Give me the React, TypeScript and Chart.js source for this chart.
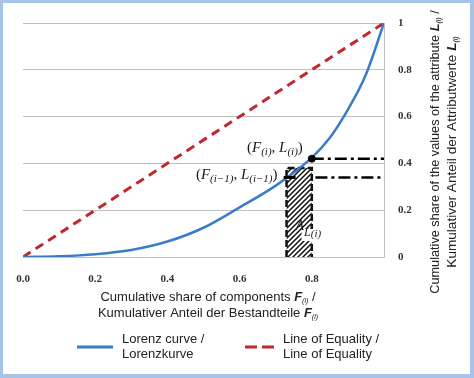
import React, { useEffect, useRef } from "react";
import { Chart, registerables } from "chart.js";

Chart.register(...registerables);

// ---- data ----
const lorenzX = [0, 0.1, 0.2, 0.3, 0.4, 0.5, 0.6, 0.7, 0.8, 0.85, 0.9, 0.95, 1];
const lorenzY = [0, 0.003, 0.012, 0.03, 0.066, 0.125, 0.212, 0.305, 0.425, 0.51, 0.63, 0.78, 1];
const equalityX = [0, 1];
const equalityY = [0, 1];
const Fi = 0.8;
const Li = 0.42;
const Fim1 = 0.73;
const Lim1 = 0.34;
const areaTop = 0.38;
const upperDashX = [0.8, 1];
const lowerDashX = [0.81, 0.99];
const lowerStubX = [0.722, 0.755];
const xTickLabels = ["0.0", "0.2", "0.4", "0.6", "0.8", ""];
const yTickLabels = ["0", "0.2", "0.4", "0.6", "0.8", "1"];
const xTitleLines = ["Cumulative share of components ", "Kumulativer Anteil der Bestandteile "];
const yTitleLines = ["Cumulative share of the values of the attribute ", "Kumulativer Anteil der Attributwerte "];
const legendLorenz = ["Lorenz curve /", "Lorenzkurve"];
const legendEquality = ["Line of Equality /", "Line of Equality"];

const BLUE = "#3b7cc8";
const RED = "#c1272d";
const SANS = "'Liberation Sans', Arial, sans-serif";
const SERIF = "'Liberation Serif', 'Times New Roman', serif";
const TXT = "#222222";

type Seg = { t: string; f: string; dy?: number };

function richWidth(ctx: CanvasRenderingContext2D, segs: Seg[]) {
  let w = 0;
  for (const s of segs) {
    ctx.font = s.f;
    w += ctx.measureText(s.t).width;
  }
  return w;
}

function drawRich(ctx: CanvasRenderingContext2D, segs: Seg[], x: number, y: number, align: "left" | "center" | "right") {
  const w = richWidth(ctx, segs);
  let cx = align === "left" ? x : align === "center" ? x - w / 2 : x - w;
  ctx.textAlign = "left";
  ctx.textBaseline = "alphabetic";
  for (const s of segs) {
    ctx.font = s.f;
    ctx.fillText(s.t, cx, y + (s.dy || 0));
    cx += ctx.measureText(s.t).width;
  }
}

const pts = (xs: number[], ys: number[]) => xs.map((x, i) => ({ x, y: ys[i] }));

const textPlugin = {
  id: "annotText",
  afterDatasetsDraw(chart: any) {
    const ctx: CanvasRenderingContext2D = chart.ctx;
    const xs = chart.scales.x;
    const ys = chart.scales.y;
    ctx.save();
    ctx.fillStyle = "#1a1a1a";
    const m = "15px " + SERIF;
    const mi = "italic 15px " + SERIF;
    const sb = "italic 11px " + SERIF;
    // (F(i), L(i))
    drawRich(
      ctx,
      [
        { t: "(", f: m },
        { t: "F", f: mi },
        { t: "(i)", f: sb, dy: 3 },
        { t: ", ", f: m },
        { t: "L", f: mi },
        { t: "(i)", f: sb, dy: 3 },
        { t: ")", f: m },
      ],
      xs.getPixelForValue(Fi) - 9,
      ys.getPixelForValue(Li) - 7,
      "right"
    );
    // (F(i-1), L(i-1))
    drawRich(
      ctx,
      [
        { t: "(", f: m },
        { t: "F", f: mi },
        { t: "(i\u22121)", f: sb, dy: 3 },
        { t: ", ", f: m },
        { t: "L", f: mi },
        { t: "(i\u22121)", f: sb, dy: 3 },
        { t: ")", f: m },
      ],
      xs.getPixelForValue(Fim1) - 9,
      ys.getPixelForValue(Lim1) + 2,
      "right"
    );
    // A_L(i)
    const ax = xs.getPixelForValue(Fim1) + 9;
    const ay = ys.getPixelForValue(0) - 27;
    const aSegs: Seg[] = [
      { t: "A", f: "italic 14px " + SERIF },
      { t: "L", f: "italic 12px " + SERIF, dy: 6 },
      { t: "(i)", f: "italic 11px " + SERIF, dy: 7 },
    ];
    const aw = richWidth(ctx, aSegs);
    ctx.fillStyle = "#ffffff";
    ctx.fillRect(ax + 6, ay - 1, aw - 5, 12);
    ctx.fillStyle = "#1a1a1a";
    drawRich(ctx, aSegs, ax, ay, "left");
    ctx.restore();
  },
  afterDraw(chart: any) {
    const ctx: CanvasRenderingContext2D = chart.ctx;
    const area = chart.chartArea;
    ctx.save();
    ctx.fillStyle = TXT;
    const f = "13px " + SANS;
    const fi = "italic bold 13px " + SANS;
    const fs = "italic 7px " + SANS;
    // x title
    const xc = 208;
    drawRich(ctx, [{ t: xTitleLines[0], f }, { t: "F", f: fi }, { t: "(i)", f: fs, dy: 2 }, { t: " /", f }], xc, area.bottom + 44, "center");
    drawRich(ctx, [{ t: xTitleLines[1], f }, { t: "F", f: fi }, { t: "(i)", f: fs, dy: 2 }], xc, area.bottom + 60, "center");
    // y title (rotated)
    const fy1 = "12.7px " + SANS;
    const fyi1 = "italic bold 12.7px " + SANS;
    const fy2 = "13.6px " + SANS;
    const fyi2 = "italic bold 13.6px " + SANS;
    const yc = 152;
    ctx.save();
    ctx.translate(439, yc);
    ctx.rotate(-Math.PI / 2);
    drawRich(ctx, [{ t: yTitleLines[0], f: fy1 }, { t: "L", f: fyi1 }, { t: "(i)", f: fs, dy: 2 }, { t: " /", f: fy1 }], 0, 0, "center");
    ctx.restore();
    ctx.save();
    ctx.translate(456, yc);
    ctx.rotate(-Math.PI / 2);
    drawRich(ctx, [{ t: yTitleLines[1], f: fy2 }, { t: "L", f: fyi2 }, { t: "(i)", f: fs, dy: 2 }], 0, 0, "center");
    ctx.restore();
    // legend
    const ly = 347;
    ctx.lineWidth = 3;
    ctx.strokeStyle = BLUE;
    ctx.beginPath();
    ctx.moveTo(77, ly);
    ctx.lineTo(113, ly);
    ctx.stroke();
    ctx.strokeStyle = RED;
    ctx.setLineDash([12, 5]);
    ctx.beginPath();
    ctx.moveTo(245, ly);
    ctx.lineTo(275, ly);
    ctx.stroke();
    ctx.setLineDash([]);
    ctx.font = f;
    ctx.textAlign = "left";
    ctx.textBaseline = "middle";
    ctx.fillText(legendLorenz[0], 122, ly - 8);
    ctx.fillText(legendLorenz[1], 122, ly + 7);
    ctx.fillText(legendEquality[0], 283, ly - 8);
    ctx.fillText(legendEquality[1], 283, ly + 7);
    ctx.restore();
  },
};

function makePattern(): CanvasPattern | string {
  const pc = document.createElement("canvas");
  pc.width = 5;
  pc.height = 5;
  const p = pc.getContext("2d");
  if (!p) return "#888";
  p.fillStyle = "#ffffff";
  p.fillRect(0, 0, 5, 5);
  p.strokeStyle = "#111111";
  p.lineWidth = 1.5;
  p.beginPath();
  p.moveTo(-1, 6);
  p.lineTo(6, -1);
  p.moveTo(-1, 1);
  p.lineTo(1, -1);
  p.moveTo(4, 6);
  p.lineTo(6, 4);
  p.stroke();
  const pat = p.createPattern(pc, "repeat");
  return pat || "#888";
}

export default function App() {
  const ref = useRef<HTMLCanvasElement | null>(null);
  useEffect(() => {
    document.body.style.margin = "0";
    const canvas = ref.current;
    if (!canvas) return;
    const hatch = makePattern();
    const chart = new Chart(canvas, {
      type: "scatter",
      data: {
        datasets: [
          {
            label: "point i",
            data: [{ x: Fi, y: Li }],
            pointRadius: 3.5,
            pointBackgroundColor: "#000",
            pointBorderColor: "#000",
            showLine: false,
          } as any,
          {
            label: "upper",
            data: pts(upperDashX, [Li, Li]),
            showLine: true,
            borderColor: "#000",
            borderWidth: 2.5,
            borderDash: [12, 4, 3, 4],
            pointRadius: 0,
          },
          {
            label: "lower",
            data: pts(lowerDashX, [Lim1, Lim1]),
            showLine: true,
            borderColor: "#000",
            borderWidth: 2.5,
            borderDash: [12, 4, 3, 4],
            pointRadius: 0,
          },
          {
            label: "stub",
            data: pts(lowerStubX, [Lim1, Lim1]),
            showLine: true,
            borderColor: "#000",
            borderWidth: 3,
            pointRadius: 0,
          },
          {
            label: "Lorenz curve",
            data: pts(lorenzX, lorenzY),
            showLine: true,
            borderColor: BLUE,
            borderWidth: 2.5,
            cubicInterpolationMode: "monotone",
            pointRadius: 0,
          } as any,
          {
            label: "Line of Equality",
            data: pts(equalityX, equalityY),
            showLine: true,
            borderColor: RED,
            borderWidth: 3,
            borderDash: [9, 6],
            pointRadius: 0,
          },
          {
            label: "area",
            data: pts([Fim1, Fim1, Fi, Fi], [0, areaTop, areaTop, 0]),
            showLine: true,
            borderColor: "#111",
            borderWidth: 2.5,
            borderDash: [7, 3],
            backgroundColor: hatch as any,
            fill: "origin",
            pointRadius: 0,
          } as any,
        ],
      },
      options: {
        responsive: false,
        animation: false,
        layout: { padding: { left: 23, top: 23, right: 0, bottom: 0 } },
        plugins: { legend: { display: false }, tooltip: { enabled: false } },
        scales: {
          x: {
            type: "linear",
            min: 0,
            max: 1,
            afterFit: (s: any) => {
              s.height = 121;
            },
            grid: { display: false, drawTicks: false },
            border: { display: false },
            ticks: {
              stepSize: 0.2,
              autoSkip: false,
              maxRotation: 0,
              padding: 16,
              color: "#333",
              font: { family: SERIF, size: 11, weight: "bold" },
              callback: (_v: any, i: number) => xTickLabels[i],
            },
          },
          y: {
            type: "linear",
            position: "right",
            min: 0,
            max: 1,
            afterFit: (s: any) => {
              s.width = 90;
            },
            grid: { color: "#c0c0c0", lineWidth: 1, drawTicks: false },
            border: { display: true, color: "#c0c0c0", width: 1 },
            ticks: {
              stepSize: 0.2,
              padding: 14,
              color: "#333",
              font: { family: SERIF, size: 11, weight: "bold" },
              callback: (_v: any, i: number) => yTickLabels[i],
            },
          },
        },
      } as any,
      plugins: [textPlugin],
    });
    return () => chart.destroy();
  }, []);

  return (
    <div style={{ position: "fixed", left: 0, top: 0, width: 474, height: 378, background: "#fff" }}>
      <canvas ref={ref} width={474} height={378} style={{ display: "block" }} />
      <div
        style={{
          position: "absolute",
          inset: 0,
          boxSizing: "border-box",
          borderStyle: "solid",
          borderColor: "#a6c4e6",
          borderWidth: "3px 4px 4px 3px",
          pointerEvents: "none",
        }}
      />
    </div>
  );
}
